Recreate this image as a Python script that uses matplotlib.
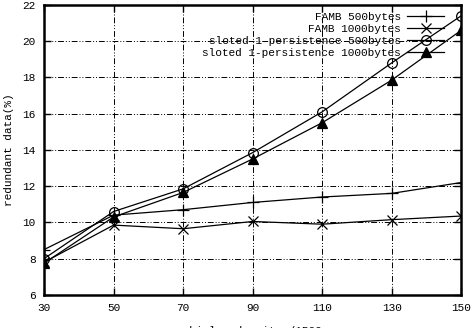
import numpy as np
import matplotlib.pyplot as plt

plt.rcParams['font.family'] = ['Liberation Mono', 'DejaVu Sans Mono']
plt.rcParams['font.size'] = 8

density = [30, 50, 70, 90, 110, 130, 150]
famb_500 = [8.5, 10.4, 10.7, 11.1, 11.4, 11.6, 12.2]
famb_1000 = [7.8, 9.85, 9.65, 10.05, 9.9, 10.15, 10.35]
sloted_500 = [8.0, 10.6, 11.85, 13.85, 16.1, 18.8, 21.4]
sloted_1000 = [7.75, 10.3, 11.65, 13.5, 15.5, 17.85, 20.6]

fig = plt.figure(figsize=(4.74, 3.28), dpi=100)
ax = fig.add_axes([0.093, 0.101, 0.880, 0.884])

ax.plot(density, famb_500, color='k', lw=0.9, marker='+', ms=9, mew=0.9,
        label='FAMB 500bytes')
ax.plot(density, famb_1000, color='k', lw=0.9, marker='x', ms=7, mew=0.9,
        label='FAMB 1000bytes')
ax.plot(density, sloted_500, color='k', lw=0.9, marker='o', ms=7, mew=0.9,
        mfc='none', label='sloted 1-persistence 500bytes')
ax.plot(density, sloted_1000, color='k', lw=0.9, marker='^', ms=7, mew=0.9,
        mfc='k', label='sloted 1-persistence 1000bytes')

ax.set_xlim(30, 150)
ax.set_ylim(6, 22)
ax.set_xticks(np.arange(30, 151, 20))
ax.set_yticks(np.arange(6, 23, 2))
ax.grid(True, color='k', lw=0.7, linestyle=(0, (6, 2, 1, 2, 1, 2)))
ax.tick_params(direction='in', top=True, right=True, length=5, width=1, pad=6)
for s in ax.spines.values():
    s.set_linewidth(1.8)

ax.set_xlabel('vehicles density /1500m', labelpad=9)
ax.set_ylabel('redundant data(%)', labelpad=6)

leg = ax.legend(loc='upper right', markerfirst=False, frameon=False,
                handlelength=3.3, labelspacing=0.18, handletextpad=0.6,
                borderaxespad=0.2, bbox_to_anchor=(0.975, 1.0))

fig.savefig('out.png', dpi=100)
